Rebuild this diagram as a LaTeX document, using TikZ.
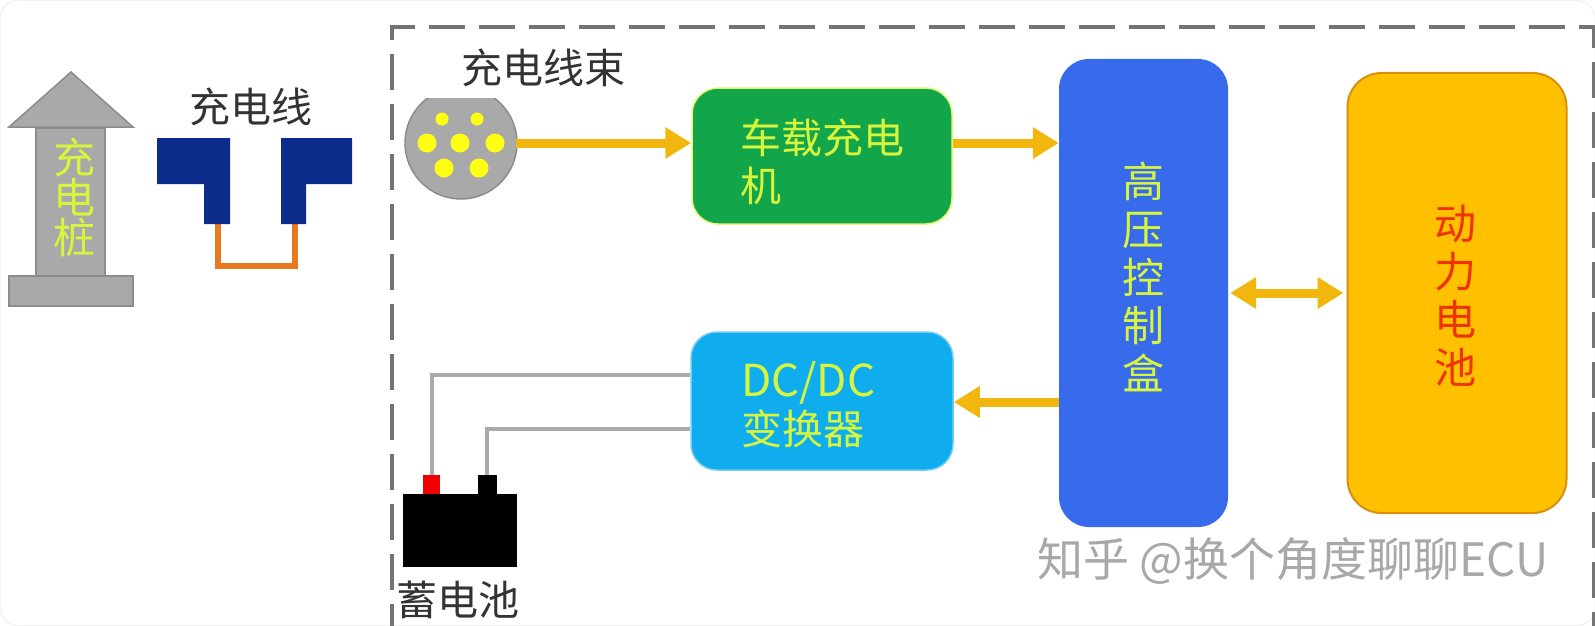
\documentclass[tikz,border=0pt]{standalone}
\usepackage{fontspec}
\setmainfont{Noto Sans CJK SC}
\usetikzlibrary{arrows.meta}
\definecolor{txtdark}{HTML}{333333}
\definecolor{postgray}{HTML}{A9A9A9}
\definecolor{postedge}{HTML}{8C8C8C}
\definecolor{navyblue}{HTML}{0C2C8C}
\definecolor{wireorange}{HTML}{E8791F}
\definecolor{flowgold}{HTML}{F2B70F}
\definecolor{lime}{HTML}{D6F53C}
\definecolor{dashgray}{HTML}{747474}
\definecolor{greenbox}{HTML}{12A54A}
\definecolor{cyanbox}{HTML}{0FADEE}
\definecolor{bluebox}{HTML}{376BEB}
\definecolor{goldbox}{HTML}{FFC000}
\definecolor{goldedge}{HTML}{D8900F}
\definecolor{wiregray}{HTML}{AAAAAA}
\definecolor{pinyellow}{HTML}{FFFF14}
\definecolor{markgray}{HTML}{A8A8A8}
\definecolor{batred}{HTML}{EE3300}
\tikzset{
  x=1pt,y=-1pt,
  lbl/.style={inner sep=0pt,font=\fontsize{41}{46}\selectfont,text=txtdark},
  boxtxt/.style={inner sep=0pt,font=\fontsize{41}{48}\selectfont,text=lime,align=left},
  vtxt/.style={inner sep=0pt,align=center,font=\fontsize{42}{48}\selectfont},
  flow/.style={draw=flowgold,line width=9pt,-{Triangle[length=26pt,width=30pt]}},
  flowboth/.style={draw=flowgold,line width=9pt,{Triangle[length=26pt,width=30pt]}-{Triangle[length=26pt,width=30pt]}},
  blk/.style={rounded corners=26pt,inner sep=0pt},
  grayw/.style={draw=wiregray,line width=3.5pt},
}
\begin{document}
\begin{tikzpicture}
\useasboundingbox (0,0) rectangle (1595,626);
\fill[white] (0,0) rectangle (1595,626);
\draw[draw=black!6,line width=1pt,rounded corners=18pt] (0,0.5) -- (1595,0.5) -- (1595,625.5) -- (0,625.5) -- cycle;
% dashed frame
\draw[draw=dashgray,line width=3.5pt,dash pattern=on 36pt off 14pt] (392,640) -- (392,27) -- (1594,27) -- (1594,640);
% post
\fill[postgray,draw=postedge,line width=1.5pt] (36,128) rectangle (105,276);
\fill[postgray,draw=postedge,line width=1.5pt] (71,72) -- (133,127) -- (9,127) -- cycle;
\fill[postgray,draw=postedge,line width=1.5pt] (9,276) rectangle (133,306);
\node[inner sep=0pt,align=center,text=lime,font=\fontsize{42}{40}\selectfont] (post) at (74,197) {充\\电\\桩};
% cable
\node[lbl] (cablelbl) at (251,107) {充电线};
\draw[wireorange,line width=6pt] (218,224) -- (218,266) -- (295,266) -- (295,224);
\fill[navyblue] (157,138) -- (230,138) -- (230,224) -- (204,224) -- (204,184) -- (157,184) -- cycle;
\fill[navyblue] (281,138) -- (352,138) -- (352,184) -- (306,184) -- (306,224) -- (281,224) -- cycle;
% connector
\node[lbl] (harness) at (543,68) {充电线束};
\begin{scope}
\clip (400,98) rectangle (525,205);
\fill[postgray,draw=postedge,line width=1.5pt] (461,143) circle (56);
\end{scope}
\foreach \px/\py/\pr in {427/143/9.5,460/143/9.5,495/143/9.5,444/168/9.5,479/168/9.5,442/119/6.5,477/119/6.5}
  \fill[pinyellow] (\px,\py) circle (\pr);
\coordinate (conn) at (516,143);
% boxes
\node[draw=lime!70!white,line width=1.5pt,fill=greenbox,blk,minimum width=260pt,minimum height=136pt] (obc) at (822,156) {};
\node[boxtxt,anchor=west] at (740,162) {车载充电\\机};
\node[draw=cyanbox!60!white,line width=1.5pt,fill=cyanbox,blk,minimum width=262pt,minimum height=138pt] (dcdc) at (822,401) {};
\node[boxtxt,anchor=west] at (741,405) {{\fontsize{44}{48}\selectfont DC/DC}\\变换器};
\node[fill=bluebox,blk,rounded corners=30pt,minimum width=169pt,minimum height=468pt] (hv) at (1143.5,293) {};
\node[vtxt,text=lime] at (1143,277) {高\\压\\控\\制\\盒};
\node[fill=goldbox,draw=goldedge,line width=2pt,blk,rounded corners=34pt,minimum width=219pt,minimum height=440pt] (batt) at (1457,293) {};
\node[vtxt,text=batred] at (1455,296) {动\\力\\电\\池};
% flows
\draw[flow] (conn) -- (obc.west |- conn);
\draw[flow] (obc.east |- 0,143) -- (hv.west |- 0,143);
\draw[flow] (hv.west |- 0,402) -- (dcdc.east |- 0,402);
\draw[flowboth] ([xshift=2pt]hv.east |- 0,293) -- ([xshift=-3pt]batt.west |- 0,293);
% battery
\fill[red!95!black] (423,475) rectangle (440,494);
\fill[black] (478,475) rectangle (497,494);
\node[fill=black,inner sep=0pt,minimum width=114pt,minimum height=73pt] (lead) at (460,530.5) {};
\coordinate (redterm) at (432,475);
\coordinate (blkterm) at (487,475);
\draw[grayw] (redterm) -- (redterm |- 0,375) -- (dcdc.west |- 0,375);
\draw[grayw] (blkterm) -- (blkterm |- 0,429) -- (dcdc.west |- 0,429);
\node[lbl] (leadlbl) at (458,600) {蓄电池};
% watermark
\node[inner sep=0pt,text=markgray,font=\fontsize{46}{50}\selectfont] (mark) at (1293,561) {知乎 @换个角度聊聊ECU};
\end{tikzpicture}
\end{document}
